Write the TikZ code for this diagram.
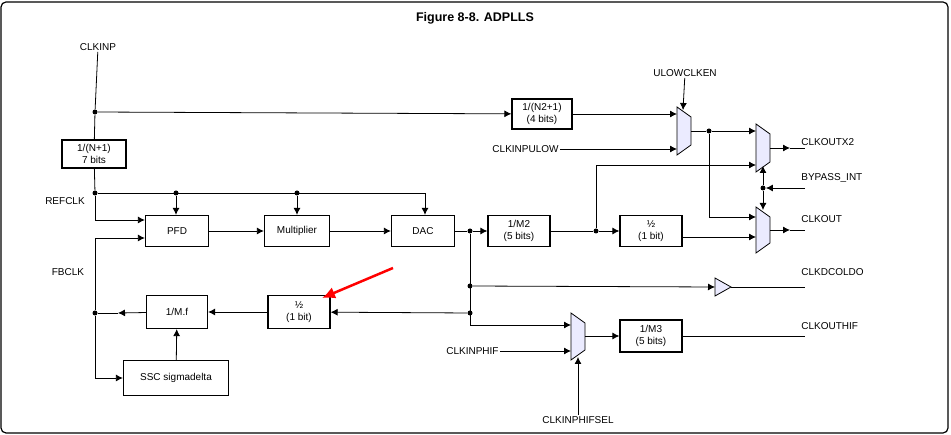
\documentclass[tikz,border=0pt]{standalone}
\usepackage{fontspec}
\setmainfont{Liberation Sans}
\usetikzlibrary{arrows.meta}
\tikzset{%
  >={Latex[width=7pt,length=7pt]},
  % block and label styles
  block/.style = {rectangle, draw=black, line width=1.3pt, inner sep=0pt,
                  text centered, align=center, font=\fontsize{10}{11.5}\selectfont},
  lbl/.style = {font=\fontsize{10}{11.5}\selectfont, inner sep=1pt},
  dot/.style = {circle, fill=black, inner sep=0pt, minimum size=5pt},
  muxfill/.style = {draw=black, fill=blue!8, line width=0.8pt}
}
% mux: name, left x, top y, bottom y (narrow right side)
\newcommand{\muxbox}[4]{%
  \draw[muxfill] (#2,#3) -- (#2+14,#3+10) -- (#2+14,#4-10) -- (#2,#4) -- cycle;
  \coordinate (#1) at (#2,#3);}
\begin{document}
\begin{tikzpicture}[x=1pt,y=-1pt,line width=0.8pt]
  \useasboundingbox (0,0) rectangle (951,435);
  \draw[black, line width=1.2pt, rounded corners=5pt] (1,2) rectangle (948,433);
  \node (title) [font=\bfseries\fontsize{12.5}{14}\selectfont] at (475,18) {Figure 8-8. ADPLLS};

  % blocks
  \node (divn)  [block, minimum width=64, minimum height=28] at (94,154) {1/(N+1)\\7 bits};
  \node (divn2) [block, minimum width=60, minimum height=30] at (542,114) {1/(N2+1)\\(4 bits)};
  \node (pfd)   [block, minimum width=63, minimum height=31] at (177,231) {PFD};
  \node (mult)  [block, minimum width=65, minimum height=31] at (297,231) {Multiplier};
  \node (dac)   [block, minimum width=63, minimum height=31] at (423,231) {DAC};
  \node (divm2) [block, minimum width=62, minimum height=31] at (519,231) {1/M2\\(5 bits)};
  \node (half)  [block, minimum width=62, minimum height=31] at (651,231) {½\\(1 bit)};
  \node (halffb)[block, minimum width=62, minimum height=33] at (299,312) {½\\(1 bit)};
  \node (divmf) [block, minimum width=61, minimum height=33] at (177,312) {1/M.f};
  \node (ssc)   [block, minimum width=105, minimum height=35] at (176,378) {SSC sigmadelta};
  \node (divm3) [block, minimum width=62, minimum height=32] at (651,336) {1/M3\\(5 bits)};

  % multiplexers
  \muxbox{muxlow}{677}{107}{155}
  \muxbox{muxx2}{756}{124}{172}
  \muxbox{muxout}{756}{207}{253}
  \muxbox{muxhif}{571}{313}{360}
  \draw[muxfill] (715,278) -- (731,287) -- (715,296) -- cycle;
  \coordinate (buf) at (715,287);

  % labels
  \node (clkinp)   [lbl] at (98,47) {CLKINP};
  \node (refclk)   [lbl] at (65,201) {REFCLK};
  \node (fbclk)    [lbl] at (68,272) {FBCLK};
  \node (ulow)     [lbl] at (685,73) {ULOWCLKEN};
  \node (inpulow)  [lbl, anchor=east] at (560,149) {CLKINPULOW};
  \node (outx2)    [lbl, anchor=west] at (800,142) {CLKOUTX2};
  \node (bypass)   [lbl, anchor=west] at (800,178) {BYPASS\_INT};
  \node (clkout)   [lbl, anchor=west] at (800,219) {CLKOUT};
  \node (dcoldo)   [lbl, anchor=west] at (800,272) {CLKDCOLDO};
  \node (outhif)   [lbl, anchor=west] at (800,326) {CLKOUTHIF};
  \node (inphif)   [lbl, anchor=east] at (500,351) {CLKINPHIF};
  \node (phifsel)  [lbl] at (578,420) {CLKINPHIFSEL};

  % dots
  \node (d1) [dot] at (95,112) {};
  \node (d2) [dot] at (95,193) {};
  \node (d3) [dot] at (176,193) {};
  \node (d4) [dot] at (297,193) {};
  \node (d5) [dot] at (470,231) {};
  \node (d6) [dot] at (596,231) {};
  \node (d7) [dot] at (709,131) {};
  \node (d8) [dot] at (763,188) {};
  \node (d9) [dot] at (470,286) {};
  \node (d10)[dot] at (470,313) {};
  \node (d11)[dot] at (95,313) {};

  % reference path
  \draw (clkinp) -- (d1) -- (divn);
  \draw[->] (d1) -- (divn2);
  \draw (divn) -- (d2);
  \draw[->] (d2) |- (pfd.west |- 0,220);
  \draw[->] (d2) -| (dac.north -| 425,0);
  \draw[->] (d3) -- (pfd.north -| d3);
  \draw[->] (d4) -- (mult.north -| d4);
  \draw[->] (pfd) -- (mult);
  \draw[->] (mult) -- (dac);
  \draw (dac) -- (d5);
  \draw[->] (d5) -- (divm2);
  \draw (divm2) -- (d6);
  \draw[->] (d6) -- (half);

  % low-power mux
  \draw[->] (ulow) -- (683,110);
  \draw[->] (divn2.east |- 0,114) -- (677,114);
  \draw[->] (inpulow) -- (677,149);
  \draw (691,131) -- (d7);
  \draw[->] (d7) -- (756,131);
  \draw[->] (d7) |- (756,217);
  \draw[->] (d6) |- (756,165);
  \draw[->] (half.east |- 0,237) -- (756,237);

  % outputs
  \draw[->] (770,148) -- (790,148);
  \draw (790,148) -- (805,148);
  \draw[->] (770,230) -- (790,230);
  \draw (790,230) -- (805,230);
  \draw[->] (805,188) -- (d8);
  \draw[->] (d8) -- (763,166);
  \draw[->] (d8) -- (763,210);

  % feedback and HIF branch
  \draw (d5) -- (470,325);
  \draw[->] (d9) -- (buf);
  \draw (731,287) -- (805,287);
  \draw[->] (d10) -- (halffb);
  \draw[->] (470,325) -- (571,325);
  \draw[->] (inphif) -- (571,351);
  \draw[->] (phifsel) -- (578,357);
  \draw[->] (585,336) -- (divm3);
  \draw (divm3) -- (805,336);
  \draw[->] (halffb) -- (divmf);
  \draw[->] (divmf) -- (118,313);
  \draw (118,313) -- (d11);
  \draw[->] (d11) |- (pfd.west |- 0,238);
  \draw[->] (d11) |- (ssc);
  \draw[->] (ssc) -- (divmf);

  % highlight
  \draw[red, line width=2.5pt, -{Latex[width=12pt,length=13pt]}] (393,268) -- (322,298);
\end{tikzpicture}
\end{document}
